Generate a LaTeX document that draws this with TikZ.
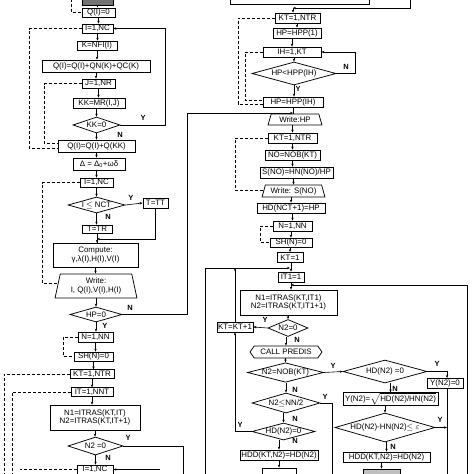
\documentclass[tikz,border=0pt]{standalone}
\usepackage{fontspec}
\setmainfont{Liberation Sans}
\usetikzlibrary{shapes.geometric,shapes.symbols,arrows.meta}
\newcommand\myfs{\fontsize{7.9}{8.4}\selectfont}
\tikzset{
  every path/.style={line width=0.6pt},
  box/.style={draw, line width=0.75pt, inner sep=0pt, font=\myfs, align=center},
  dec/.style={draw, diamond, line width=0.75pt, inner sep=0pt, font=\myfs},
  wr/.style={draw, trapezium, trapezium stretches=true, line width=0.75pt, inner sep=0pt, font=\myfs, align=center},
  disp/.style={draw, signal, signal to=west and east, signal pointer angle=110, line width=0.75pt, inner sep=0pt, font=\myfs},
  lp/.style={dashed, dash pattern=on 3pt off 2pt, line width=0.6pt},
  ar/.style={-{Stealth[length=3pt,width=2.4pt]}},
  lb/.style={font=\fontsize{7.5}{8}\selectfont\bfseries, inner sep=0pt},
}
\begin{document}
\begin{tikzpicture}[x=1pt,y=-1pt]
\useasboundingbox[fill=white] (0,0) rectangle (474,474);
% ---------------- left column ----------------
\node[box, fill=black!55, minimum width=31, minimum height=11] (top0) at (97.5,-0.5) {};
\node[box, minimum width=33, minimum height=9] (q0) at (98.5,12.5) {Q(I)=0};
\node[box, minimum width=31, minimum height=9] (i1) at (97.5,28.5) {I=1,NC};
\node[box, minimum width=40, minimum height=9] (k) at (97,45.5) {K=NFI(I)};
\node[box, minimum width=108, minimum height=12] (qsum) at (96,66) {Q(I)=Q(I)+QN(K)+QC(K)};
\node[box, minimum width=33, minimum height=9] (j1) at (98.5,83.5) {J=1,NR};
\node[box, minimum width=52, minimum height=10] (kk) at (99,103) {KK=MR(I,J)};
\node[dec, aspect=2.9, minimum width=47, minimum height=16] (kk0) at (96.5,125) {KK=0};
\node[box, minimum width=77, minimum height=12] (qkk) at (96.5,146) {Q(I)=Q(I)+Q(KK)};
\node[box, minimum width=52, minimum height=12] (delta) at (99,164) {Δ = Δ\textsubscript{0}+ωδ};
\node[box, minimum width=33, minimum height=9] (i2) at (96.5,182.5) {I=1,NC};
\node[dec, aspect=3.6, minimum width=57, minimum height=16] (nct) at (96.5,205) {I $\leq$ NCT};
\node[box, minimum width=25, minimum height=10] (tt) at (155.5,203) {T=TT};
\node[box, minimum width=30, minimum height=8] (tr) at (97,229) {T=TR};
\node[box, minimum width=85, minimum height=24] (comp) at (95.5,255) {Compute:\\γ,λ(I),H(I),V(I)};
\node[wr, trapezium left angle=77, trapezium right angle=77, minimum width=82, minimum height=24] (w1) at (96,286) {Write:\\I, Q(I),V(I),H(I)};
\node[dec, aspect=3.5, minimum width=52, minimum height=15] (hp0) at (96,314.5) {HP=0};
\node[box, minimum width=35, minimum height=10] (n1) at (95.5,337) {N=1,NN};
\node[box, minimum width=39, minimum height=9] (sh) at (93.5,356.5) {SH(N)=0};
\node[box, minimum width=44, minimum height=8.5] (kt1) at (92,374) {KT=1,NTR};
\node[box, minimum width=42, minimum height=8.5] (it1) at (92,392) {IT=1,NNT};
\node[box, minimum width=90, minimum height=25] (n12) at (95,417.5) {N1=ITRAS(KT,IT)\\N2=ITRAS(KT,IT+1)};
\node[dec, aspect=3.1, minimum width=55, minimum height=18] (n20) at (95.5,446) {N2 =0};
\node[box, minimum width=36, minimum height=9] (i3) at (95,469.5) {I=1,NC};
% connectors left
\draw[ar] (top0.south) -- (top0.south |- q0.north);
\draw[ar] (q0.south) -- (q0.south |- i1.north);
\draw[ar] (i1.south) -- (i1.south |- k.north);
\draw[ar] (k.south) -- (k.south |- qsum.north);
\draw[ar] (qsum.south) -- (qsum.south |- j1.north);
\draw[ar] (j1.south) -- (j1.south |- kk.north);
\draw[ar] (kk.south -| kk0.north) -- (kk0.north);
\draw[ar] (kk0.south) -- (kk0.south |- qkk.north);
\draw[ar] (qkk.south) -- (qkk.south |- delta.north);
\draw[ar] (delta.south -| i2.north) -- (i2.north);
\draw[ar] (i2.south) -- (i2.south |- nct.north);
\draw[ar] (nct.south) -- (nct.south |- tr.north);
\draw (tr.south) -- (tr.south |- comp.north);
\coordinate (jtr) at (97,239);
\draw[ar] (tt.south) |- (jtr);
\draw[ar] (jtr) -- (jtr |- comp.north);
\draw[ar] (comp.south) -- (comp.south |- w1.north);
\draw[ar] (w1.south) -- (w1.south |- hp0.north);
\draw[ar] (hp0.south) -- (hp0.south |- n1.north);
\draw[ar] (n1.south) -- (n1.south |- sh.north);
\draw[ar] (sh.south) -- (sh.south |- kt1.north);
\draw[ar] (kt1.south) -- (kt1.south |- it1.north);
\draw[ar] (it1.south) -- (it1.south |- n12.north);
\draw[ar] (n12.south) -- (n12.south |- n20.north);
\draw[ar] (n20.south) -- (n20.south |- i3.north);
% branches left
\draw[ar] (kk0.east) -- (165,125) -- (165,28.5) -- (i1.east);
\node[lb] at (143,118) {Y};
\node[lb] at (120,135) {N};
\draw[ar] (nct.east) -- (tt.west);
\node[lb] at (131,198) {Y};
\node[lb] at (108,217) {N};
\draw[ar] (hp0.east) -- (187,314.5) -- (187,113) -- (293,113);
\node[lb] at (130,308) {N};
\node[lb] at (105,326) {Y};
\draw (n20.east) -- (183,446) -- (183,474);
\node[lb] at (128,438) {Y};
\node[lb] at (108,458) {N};
\draw[ar] (160,469.5) -- (i3.east);
% loops left
\draw[lp] (71,-6) -- (71,12) -- (q0.west |- 0,12);
\draw[lp] (i1.west) -- (29,28.5) -- (29,148) -- (qkk.west |- 0,148);
\draw[lp] (j1.west) -- (44,83.5) -- (44,143) -- (qkk.west |- 0,143);
\draw[lp] (i2.west) -- (42,182.5) -- (42,283) -- (w1.west |- 0,283);
\draw[lp] (n1.west) -- (63,337) -- (63,356.5) -- (sh.west);
\draw[lp] (kt1.west) -- (4,374) -- (4,474);
\draw[lp] (it1.west) -- (12,392) -- (12,474);
\draw[lp] (i3.west) -- (20,469.5);
% ---------------- middle column ----------------
\node[box, minimum width=139, minimum height=10] (topm) at (299.5,-1) {};
\node[box, minimum width=45, minimum height=10] (kt2) at (297.5,18) {KT=1,NTR};
\node[box, minimum width=48, minimum height=10] (hpp1) at (297,33) {HP=HPP(1)};
\node[box, minimum width=58, minimum height=10] (ih) at (292,52) {IH=1,KT};
\node[dec, aspect=3.65, minimum width=84, minimum height=23] (hpd) at (294,73.5) {HP<HPP(IH)};
\node[box, minimum width=60, minimum height=10] (hppih) at (293,102) {HP=HPP(IH)};
\node[wr, trapezium left angle=70, trapezium right angle=70, minimum width=54, minimum height=11] (whp) at (295,119.5) {Write:HP};
\node[box, minimum width=49, minimum height=10] (kt3) at (292.5,138) {KT=1,NTR};
\node[box, minimum width=55, minimum height=10] (no) at (292.5,155) {NO=NOB(KT)};
\node[box, minimum width=73, minimum height=11] (sno) at (296.5,172.5) {S(NO)=HN(NO)/HP};
\node[wr, trapezium left angle=70, trapezium right angle=70, minimum width=63, minimum height=12] (wsno) at (293.5,191) {Write: S(NO)};
\node[box, minimum width=68, minimum height=10] (hdnct) at (291,208) {HD(NCT+1)=HP};
\node[box, minimum width=39, minimum height=10] (nn) at (292.5,226) {N=1,NN};
\node[box, minimum width=42, minimum height=9] (shn) at (291,242.5) {SH(N)=0};
\node[box, minimum width=26, minimum height=10] (kt4) at (290,257.5) {KT=1};
\node[box, minimum width=26, minimum height=10] (it11) at (291,277) {IT1=1};
\node[box, minimum width=97, minimum height=25] (n12m) at (288.5,302.5) {N1=ITRAS(KT,IT1)\\N2=ITRAS(KT,IT1+1)};
\node[dec, aspect=2.35, minimum width=40, minimum height=17] (n20m) at (288,328) {N2=0};
\node[box, minimum width=36, minimum height=10] (ktk) at (235,327) {KT=KT+1};
\node[disp, minimum width=72, minimum height=12] (call) at (286,352) {CALL PREDIS};
\node[dec, aspect=3.9, minimum width=75, minimum height=19] (nob) at (285.5,372.5) {N2=NOB(KT)};
\node[dec, aspect=3.4, minimum width=68, minimum height=20] (nn2) at (286,403) {N2$\leq$NN/2};
\node[dec, aspect=3.7, minimum width=63, minimum height=17] (hd0) at (283.5,431.5) {HD(N2)=0};
\node[box, minimum width=78, minimum height=10] (hddm) at (279,455) {HDD(KT,N2)=HD(N2)};
\node[box, minimum width=34, minimum height=12] (botm) at (279,474) {};
% connectors middle
\coordinate (jtop) at (293,8);
\draw[ar] (410,-6) -- (410,8) -- (jtop);
\draw[ar] (jtop) -- (jtop |- kt2.north);
\draw[ar] (kt2.south -| hpp1.north) -- (hpp1.north);
\draw[ar] (hpp1.south -| ih.north) -- (ih.north);
\draw[ar] (ih.south -| hpd.north) -- (hpd.north);
\draw[ar] (hpd.south) -- (hpd.south |- hppih.north);
\draw (hppih.south) -- (hppih.south |- whp.north);
\draw[ar] (whp.south -| kt3.north) -- (kt3.north);
\draw[ar] (kt3.south) -- (kt3.south |- no.north);
\draw[ar] (no.south) -- (no.south |- sno.north);
\draw[ar] (sno.south -| wsno.north) -- (wsno.north);
\draw[ar] (wsno.south -| hdnct.north) -- (hdnct.north);
\draw[ar] (hdnct.south -| nn.north) -- (nn.north);
\draw[ar] (nn.south -| shn.north) -- (shn.north);
\draw[ar] (shn.south -| kt4.north) -- (kt4.north);
\draw[ar] (kt4.south -| it11.north) -- (it11.north);
\draw[ar] (it11.south) -- (it11.south |- n12m.north);
\draw[ar] (n12m.south -| n20m.north) -- (n20m.north);
\draw[ar] (n20m.south -| call.north) -- (call.north);
\draw[ar] (call.south -| nob.north) -- (nob.north);
\draw[ar] (nob.south -| nn2.north) -- (nn2.north);
\draw[ar] (nn2.south -| hd0.north) -- (hd0.north);
\draw[ar] (hd0.south -| hddm.north) -- (hddm.north);
\draw[ar] (hddm.south -| botm.north) -- (botm.north);
% branches middle
\draw[ar] (hpd.east) -- (355,73.5) -- (355,52) -- (ih.east);
\node[lb] at (346,67) {N};
\node[lb] at (298,89) {Y};
\draw[ar] (467,474) -- (467,285) -- (291,285);
\draw[ar] (n20m.west) -- (ktk.east);
\node[lb] at (265,320) {Y};
\node[lb] at (297,340) {N};
\draw[ar] (ktk.north) -- (235,268);
\draw[ar] (205,474) -- (205,268) -- (290,268);
\draw[ar] (hd0.west) -- (235,431.5) -- (ktk.south);
\node[lb] at (240,425) {Y};
\node[lb] at (295,441) {N};
\node[lb] at (295,390) {N};
\node[lb] at (295,419) {N};
\draw (nn2.east) -- (332,403) -- (332,474);
\node[lb] at (325,397) {Y};
% loops middle
\draw[lp] (kt2.west) -- (238,18) -- (238,104) -- (hppih.west |- 0,104);
\draw[lp] (ih.west) -- (245,52) -- (245,100) -- (hppih.west |- 0,100);
\draw[lp] (kt3.west) -- (235,138) -- (235,190) -- (wsno.west |- 0,190);
\draw[lp] (nn.west) -- (260,226) -- (260,242.5) -- (shn.west);
% ---------------- right column ----------------
\node[dec, aspect=3.65, minimum width=84, minimum height=23] (hd0r) at (385,371.5) {HD(N2) =0};
\node[box, minimum width=36, minimum height=10] (yn0) at (445,383) {Y(N2)=0};
\node[box, minimum width=95, minimum height=12] (ysq) at (390.5,399) {Y(N2)=$\sqrt{\hbox{HD(N2)/HN(N2)}}$};
\node[dec, aspect=3.45, minimum width=100, minimum height=29] (eps) at (385,427.5) {HD(N2)-HN(N2)$\leq\varepsilon$};
\node[box, minimum width=87, minimum height=10] (hddr) at (386.5,457) {HDD(KT,N2)=HD(N2)};
\node[box, fill=black!25, minimum width=37, minimum height=12] (botr) at (381.5,475) {};
\draw[ar] (nob.east) -- (hd0r.west);
\node[lb] at (333,366) {Y};
\draw[ar] (hd0r.east) -- (447,371.5) -- (447,378);
\draw (yn0.south -| 447,0) -- (447,474);
\node[lb] at (437,364) {Y};
\draw[ar] (hd0r.south -| ysq.north) -- (ysq.north);
\node[lb] at (395,389) {N};
\draw[ar] (ysq.south -| eps.north) -- (eps.north);
\draw[ar] (eps.east) -- (447,427.5);
\node[lb] at (440,420) {Y};
\draw[ar] (eps.south -| hddr.north) -- (hddr.north);
\node[lb] at (393,447) {N};
\draw[ar] (hddr.south -| botr.north) -- (botr.north);
\end{tikzpicture}
\end{document}
